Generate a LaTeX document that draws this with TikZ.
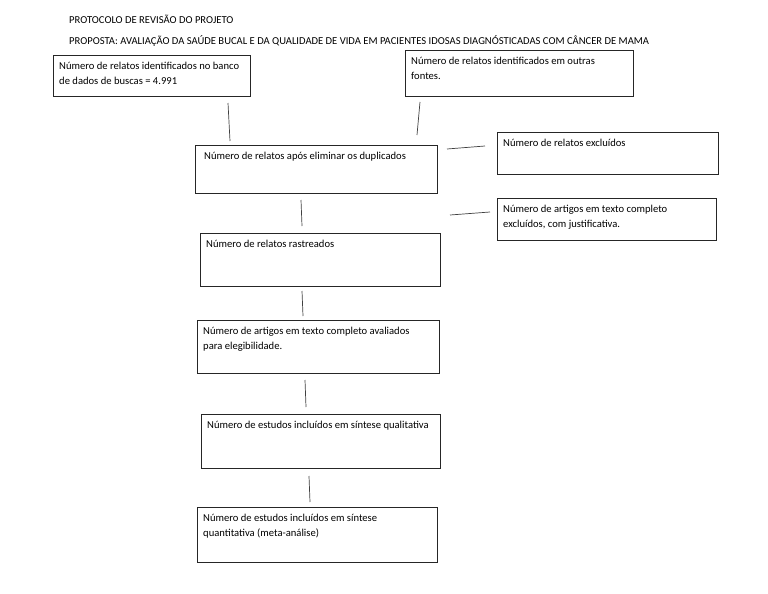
\documentclass[tikz,border=0pt]{standalone}
\usepackage{fontspec}
\setmainfont{Carlito}
\begin{document}
\begin{tikzpicture}[x=1pt,y=-1pt,
  box/.style={draw=black!85, line width=1pt, anchor=north west, inner sep=0pt},
  lab/.style={anchor=north west, align=left, inner sep=0pt, xshift=6pt, yshift=-6.5pt,
    font=\fontsize{10.6}{15.5}\selectfont},
  ttl/.style={anchor=west, inner sep=0pt, font=\fontsize{10.6}{12}\selectfont},
  conn/.style={draw=black!75, line width=0.7pt}]
\useasboundingbox (0,0) rectangle (768,594);
\fill[white] (0,0) rectangle (768,594);
\node[ttl] (t1) at (69,19) {PROTOCOLO DE REVISÃO DO PROJETO};
\node[ttl] (t2) at (69,41) {PROPOSTA: AVALIAÇÃO DA SAÚDE BUCAL E DA QUALIDADE DE VIDA EM PACIENTES IDOSAS DIAGNÓSTICADAS COM CÂNCER DE MAMA};

\node[box, minimum width=197pt, minimum height=41pt,
  label={[lab]north west:{Número de relatos identificados no banco\\de dados de buscas = 4.991}}] (a) at (53,55) {};
\node[box, minimum width=228pt, minimum height=46pt,
  label={[lab]north west:{Número de relatos identificados em outras\\fontes.}}] (b) at (405,50) {};
\node[box, minimum width=242pt, minimum height=48pt,
  label={[lab, xshift=3pt]north west:{Número de relatos após eliminar os duplicados}}] (c) at (195,145) {};
\node[box, minimum width=221pt, minimum height=42pt,
  label={[lab]north west:{Número de relatos excluídos}}] (d) at (497,132) {};
\node[box, minimum width=240pt, minimum height=53pt,
  label={[lab]north west:{Número de relatos rastreados}}] (e) at (200,233) {};
\node[box, minimum width=219pt, minimum height=42pt,
  label={[lab]north west:{Número de artigos em texto completo\\excluídos, com justificativa.}}] (f) at (497,198) {};
\node[box, minimum width=242pt, minimum height=53pt,
  label={[lab]north west:{Número de artigos em texto completo avaliados\\para elegibilidade.}}] (g) at (197,320) {};
\node[box, minimum width=239pt, minimum height=54pt,
  label={[lab]north west:{Número de estudos incluídos em síntese qualitativa}}] (h) at (201,414) {};
\node[box, minimum width=240pt, minimum height=55pt,
  label={[lab]north west:{Número de estudos incluídos em síntese\\quantitativa (meta-análise)}}] (i) at (197,507) {};

\coordinate (a1) at (228,103); \coordinate (a2) at (230,141);
\coordinate (b1) at (420,102); \coordinate (b2) at (417,135);
\coordinate (cd1) at (447,149); \coordinate (cd2) at (485,146);
\coordinate (ce1) at (301,200); \coordinate (ce2) at (302,226);
\coordinate (ef1) at (450,215); \coordinate (ef2) at (490,212);
\coordinate (eg1) at (302,291); \coordinate (eg2) at (303,316);
\coordinate (gh1) at (305,380); \coordinate (gh2) at (306,407);
\coordinate (hi1) at (309,476); \coordinate (hi2) at (310,502);
\draw[conn] (a1) -- (a2);
\draw[conn] (b1) -- (b2);
\draw[conn] (cd1) -- (cd2);
\draw[conn] (ce1) -- (ce2);
\draw[conn] (ef1) -- (ef2);
\draw[conn] (eg1) -- (eg2);
\draw[conn] (gh1) -- (gh2);
\draw[conn] (hi1) -- (hi2);
\end{tikzpicture}
\end{document}
